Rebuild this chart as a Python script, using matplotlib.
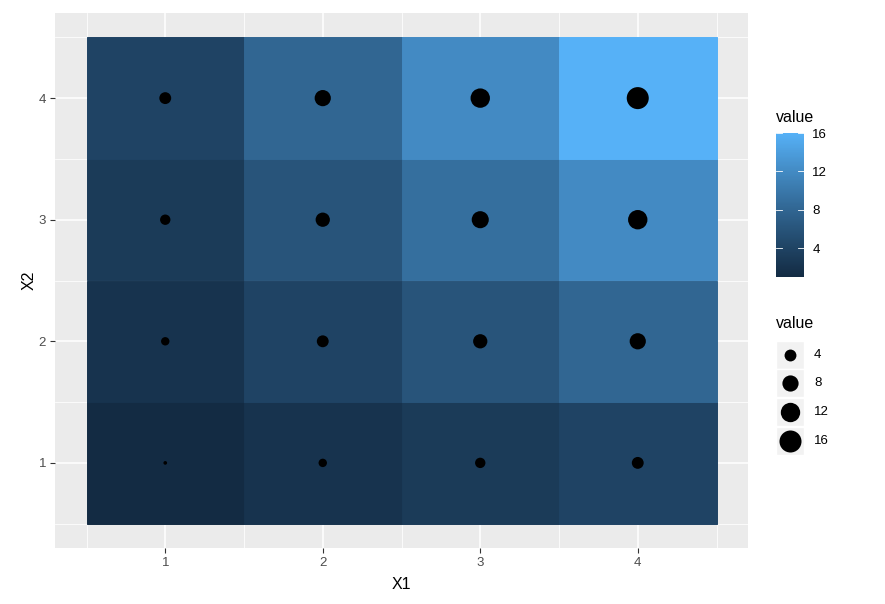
import numpy as np
import matplotlib
matplotlib.use("Agg")
import matplotlib.pyplot as plt
from matplotlib.colors import ListedColormap, Normalize
from matplotlib.colorbar import ColorbarBase

plt.rcParams['font.family'] = ['Liberation Sans', 'DejaVu Sans']

# data: one tile + one point per (X1, X2) cell
x1 = [1, 2, 3, 4, 1, 2, 3, 4, 1, 2, 3, 4, 1, 2, 3, 4]
x2 = [1, 1, 1, 1, 2, 2, 2, 2, 3, 3, 3, 3, 4, 4, 4, 4]
value = [1, 2, 3, 4, 2, 4, 6, 8, 3, 6, 9, 12, 4, 8, 12, 16]
ticks = [1, 2, 3, 4]
legend_breaks = [4, 8, 12, 16]

vmin, vmax = min(value), max(value)


# ggplot-style gradient (#132B43 -> #56B1F7) interpolated in CIELAB
def srgb_to_lab(c):
    c = np.asarray(c, float)
    lin = np.where(c <= 0.04045, c / 12.92, ((c + 0.055) / 1.055) ** 2.4)
    m = np.array([[0.4124, 0.3576, 0.1805],
                  [0.2126, 0.7152, 0.0722],
                  [0.0193, 0.1192, 0.9505]])
    xyz = m @ lin / np.array([0.95047, 1.0, 1.08883])
    f = np.where(xyz > 0.008856, np.cbrt(xyz), 7.787 * xyz + 16 / 116)
    return np.array([116 * f[1] - 16, 500 * (f[0] - f[1]), 200 * (f[1] - f[2])])


def lab_to_srgb(lab):
    L, a, b = lab
    fy = (L + 16) / 116
    fx = fy + a / 500
    fz = fy - b / 200
    f = np.array([fx, fy, fz])
    xyz = np.where(f ** 3 > 0.008856, f ** 3, (f - 16 / 116) / 7.787)
    xyz = xyz * np.array([0.95047, 1.0, 1.08883])
    m = np.array([[3.2406, -1.5372, -0.4986],
                  [-0.9689, 1.8758, 0.0415],
                  [0.0557, -0.2040, 1.0570]])
    lin = m @ xyz
    c = np.where(lin <= 0.0031308, 12.92 * lin, 1.055 * np.clip(lin, 0, None) ** (1 / 2.4) - 0.055)
    return np.clip(c, 0, 1)


low = srgb_to_lab(np.array([0x13, 0x2B, 0x43]) / 255)
high = srgb_to_lab(np.array([0x56, 0xB1, 0xF7]) / 255)
cmap = ListedColormap([lab_to_srgb(low + t * (high - low)) for t in np.linspace(0, 1, 256)])
norm = Normalize(vmin, vmax)


def point_area(v):
    # ggplot scale_size: area palette, range 1..6 mm -> diameter in px
    size_mm = 1 + 5 * np.sqrt((np.asarray(v, float) - vmin) / (vmax - vmin))
    d_px = size_mm * 3.67
    return (d_px * 0.72) ** 2


W, H = 885, 604
fig = plt.figure(figsize=(W / 100, H / 100), dpi=100)
ax = fig.add_axes([55 / W, 1 - 548 / H, (748 - 55) / W, (548 - 13) / H])
ax.set_facecolor('#EBEBEB')

for minor in [0.5, 1.5, 2.5, 3.5, 4.5]:
    ax.axvline(minor, color='white', lw=0.55, zorder=0)
    ax.axhline(minor, color='white', lw=0.55, zorder=0)
for t in ticks:
    ax.axvline(t, color='white', lw=1.1, zorder=0)
    ax.axhline(t, color='white', lw=1.1, zorder=0)

for a, b, v in zip(x1, x2, value):
    c = cmap(norm(v))
    ax.add_patch(plt.Rectangle((a - 0.5, b - 0.5), 1, 1, facecolor=c,
                               edgecolor=c, linewidth=0.7, zorder=1))
ax.scatter(x1, x2, s=point_area(value), color='black', linewidths=0, zorder=2)

ax.set_xlim(0.3, 4.7)
ax.set_ylim(0.3, 4.7)
ax.set_xticks(ticks)
ax.set_yticks(ticks)
ax.tick_params(length=3.5, width=0.8, color='#333333', labelcolor='#4D4D4D',
               labelsize=9.5, pad=3)
for s in ax.spines.values():
    s.set_visible(False)
ax.set_xlabel('X1', fontsize=11.5, labelpad=6)
ax.set_ylabel('X2', fontsize=11.5, labelpad=1)

# colour legend
fig.text(776 / W, 1 - 117 / H, 'value', fontsize=11.5, va='center', ha='left')
cax = fig.add_axes([776 / W, 1 - 277 / H, 28 / W, (277 - 133) / H])
cb = ColorbarBase(cax, cmap=cmap, norm=norm, ticks=legend_breaks)
cb.outline.set_visible(False)
cax.tick_params(length=0, labelsize=9.5, pad=6)
for t in legend_breaks:
    cax.plot([0, 0.2], [t, t], color='white', lw=0.6, transform=cax.get_yaxis_transform())
    cax.plot([0.8, 1], [t, t], color='white', lw=0.6, transform=cax.get_yaxis_transform())

# size legend
fig.text(776 / W, 1 - 324 / H, 'value', fontsize=11.5, va='center', ha='left')
key_y = [355, 383, 412, 441]
for ky, v in zip(key_y, legend_breaks):
    kax = fig.add_axes([776 / W, 1 - (ky + 14) / H, 28 / W, 28 / H])
    kax.set_facecolor('#F2F2F2')
    kax.set_xlim(0, 1)
    kax.set_ylim(0, 1)
    kax.set_xticks([])
    kax.set_yticks([])
    for s in kax.spines.values():
        s.set_color('white')
        s.set_linewidth(1)
    kax.scatter([0.5], [0.5], s=point_area(v), color='black', linewidths=0)
    fig.text(814 / W, 1 - ky / H, str(v), fontsize=9.5, va='center', ha='left')

fig.savefig('out.png', dpi=100)
